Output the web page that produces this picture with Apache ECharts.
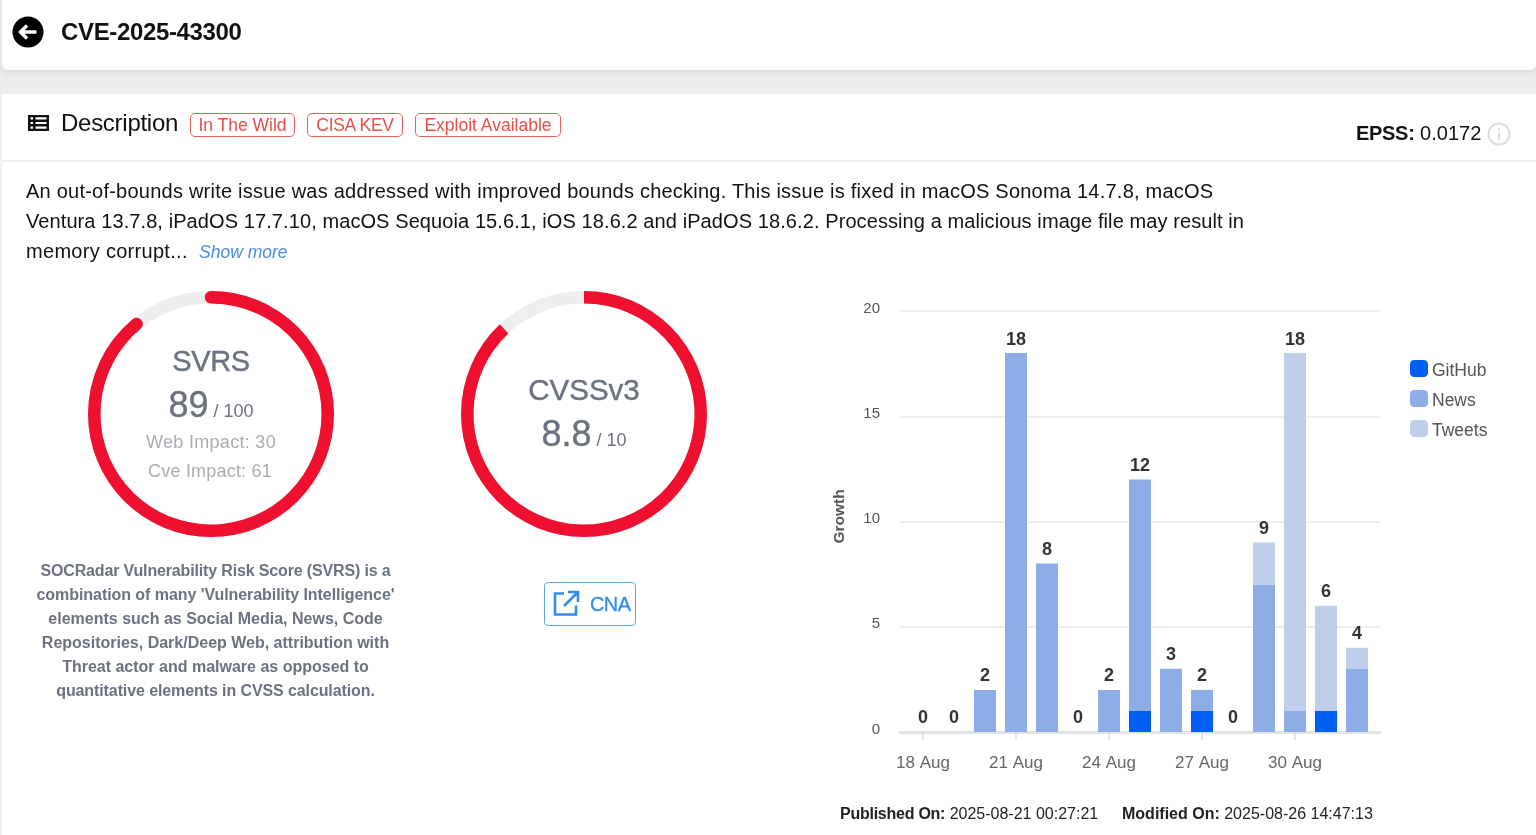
<!DOCTYPE html>
<html><head><meta charset="utf-8">
<script src="https://cdn.jsdelivr.net/npm/echarts@6/dist/echarts.min.js"></script>
<style>
html,body{margin:0;padding:0;width:1536px;height:835px;overflow:hidden;background:#fff;font-family:"Liberation Sans",Arial,sans-serif;color:#111}
#bg1{position:absolute;left:2px;top:0;width:1534px;height:70px;background:#fff;border-radius:0 0 6px 6px;box-shadow:0 2px 7px rgba(0,0,0,.09)}
#bg2{position:absolute;left:0;top:0;width:1536px;height:94px;background:#ededed}
#bg3{position:absolute;left:2px;top:94px;width:1534px;height:741px;background:#fff;border-radius:6px 0 0 0}
#bg4{position:absolute;left:0;top:94px;width:2px;height:741px;background:#f2f2f2}
#rule{position:absolute;left:2px;top:160px;width:1534px;height:2px;background:#f0f0f0}
.t{position:absolute;white-space:nowrap;transform:translateY(-50%)}
.c{position:absolute;white-space:nowrap;transform:translate(-50%,-50%);text-align:center}
.tag{position:absolute;top:113px;height:22px;line-height:23px;border:1px solid #e5625c;border-radius:5px;color:#e5504a;font-size:17.5px;text-align:center}
#chart{position:absolute;left:0;top:0;width:1536px;height:835px}
.g{color:#6b7280}
.s{-webkit-text-stroke:.4px #6b7280}
.p{font-size:16px;font-weight:bold}
svg{position:absolute}
</style></head><body>
<div id="bg2"></div><div id="bg1"></div><div id="bg4"></div><div id="bg3"></div><div id="rule"></div>
<div id="chart"></div>

<svg style="left:12px;top:16px" width="32" height="32" viewBox="0 0 32 32"><circle cx="16" cy="16" r="15.500" fill="#000"/><path d="M24.500 16H9M15 9.500L8.500 16l6.500 6.500" stroke="#fff" stroke-width="3.400" fill="none"/></svg>
<div class="t" style="left:61px;top:32px;font-size:24px;font-weight:bold;letter-spacing:-.35px">CVE-2025-43300</div>

<svg style="left:28px;top:114px" width="21" height="18" viewBox="0 0 21 18"><path fill="#111" fill-rule="evenodd" d="M0 1h21v16H0zM2.500 3.200v2.200H5V3.200zm5 0v2.200h11V3.200zM2.500 7.900v2.200H5V7.900zm5 0v2.200h11V7.900zM2.500 12.600v2.200H5v-2.200zm5 0v2.200h11v-2.200z"/></svg>
<div class="t" style="left:61px;top:123px;font-size:24px;letter-spacing:-.27px">Description</div>
<div class="tag" style="left:190px;width:103px">In The Wild</div>
<div class="tag" style="left:307px;width:94px;letter-spacing:-.3px">CISA KEV</div>
<div class="tag" style="left:415px;width:144px">Exploit Available</div>
<div class="t" style="left:1356px;top:133px;font-size:20px"><b style="letter-spacing:-.3px">EPSS:</b> 0.0172</div>
<svg style="left:1487px;top:122px" width="24" height="24" viewBox="0 0 24 24"><circle cx="12" cy="12" r="10.500" fill="none" stroke="#ddd" stroke-width="2"/><rect x="11" y="10.500" width="2" height="7.500" fill="#ddd"/><rect x="11" y="6.500" width="2" height="2" fill="#ddd"/></svg>

<div class="t" style="left:26px;top:190.500px;font-size:20px;letter-spacing:.23px">An out-of-bounds write issue was addressed with improved bounds checking. This issue is fixed in macOS Sonoma 14.7.8, macOS</div>
<div class="t" style="left:26px;top:220.500px;font-size:20px;letter-spacing:.09px">Ventura 13.7.8, iPadOS 17.7.10, macOS Sequoia 15.6.1, iOS 18.6.2 and iPadOS 18.6.2. Processing a malicious image file may result in</div>
<div class="t" style="left:26px;top:250.500px;font-size:20px;letter-spacing:.3px">memory corrupt...</div>
<div class="t" style="left:199px;top:252px;font-size:17.500px;font-style:italic;color:#4a8ee0">Show more</div>

<div class="c g s" style="left:211px;top:361px;font-size:29px;letter-spacing:-.4px">SVRS</div>
<div class="c g" style="left:211px;top:405px"><span class="s" style="font-size:36px">89</span><span style="font-size:18px"> / 100</span></div>
<div class="c" style="left:211px;top:442px;font-size:18px;color:#a9adb3;letter-spacing:.3px">Web Impact: 30</div>
<div class="c" style="left:210px;top:471px;font-size:18px;color:#a9adb3;letter-spacing:.2px">Cve Impact: 61</div>
<div class="c g s" style="left:584px;top:390px;font-size:29.500px">CVSSv3</div>
<div class="c g" style="left:584px;top:434px"><span class="s" style="font-size:36px">8.8</span><span style="font-size:18px"> / 10</span></div>

<div class="c g p" style="left:215.500px;top:571px;letter-spacing:-.15px">SOCRadar Vulnerability Risk Score (SVRS) is a</div>
<div class="c g p" style="left:215.500px;top:595px;letter-spacing:-.06px">combination of many 'Vulnerability Intelligence'</div>
<div class="c g p" style="left:215.500px;top:619px">elements such as Social Media, News, Code</div>
<div class="c g p" style="left:215.500px;top:643px">Repositories, Dark/Deep Web, attribution with</div>
<div class="c g p" style="left:215.500px;top:667px">Threat actor and malware as opposed to</div>
<div class="c g p" style="left:215.500px;top:691px;letter-spacing:-.1px">quantitative elements in CVSS calculation.</div>

<div style="position:absolute;left:544px;top:582px;width:90px;height:42px;border:1px solid #5aa9e6;border-radius:4px"></div>
<svg style="left:552px;top:590px" width="28" height="28" viewBox="0 0 28 28"><path d="M12 3.500H3v21h21v-9M16 2h10v10M26 2L12 16" fill="none" stroke="#2f8fe6" stroke-width="2.600"/></svg>
<div class="t" style="left:590px;top:604px;font-size:20px;color:#2f8fe6;letter-spacing:-.6px;-webkit-text-stroke:.3px #2f8fe6">CNA</div>

<div class="t" style="left:840px;top:814px;font-size:16px;color:#222"><b style="letter-spacing:-.25px">Published On:</b> 2025-08-21 00:27:21</div>
<div class="t" style="left:1122px;top:814px;font-size:16px;color:#222"><b>Modified On:</b> 2025-08-26 14:47:13</div>

<script>
const categories = ['18 Aug','19 Aug','20 Aug','21 Aug','22 Aug','23 Aug','24 Aug','25 Aug','26 Aug','27 Aug','28 Aug','29 Aug','30 Aug','31 Aug','01 Sep'];
const github = [0,0,0,0,0,0,0,1,0,1,0,0,0,1,0];
const news   = [0,0,2,18,8,0,2,11,3,1,0,7,1,0,3];
const tweets = [0,0,0,0,0,0,0,0,0,0,0,2,17,5,1];
const totals = [0,0,2,18,8,0,2,12,3,2,0,9,18,6,4];
const svrsScore = 89, svrsMax = 100;
const cvssScore = 8.8, cvssMax = 10;

const RED = '#ef0f2f', TRACK = '#eeeeee';
function ring(value, max, cx, round) {
  return {
    type:'gauge', center:[cx,414], radius:123, startAngle:90, endAngle:-270, min:0, max:max, silent:true,
    pointer:{show:false}, axisTick:{show:false}, splitLine:{show:false}, axisLabel:{show:false},
    title:{show:false}, detail:{show:false}, animation:false,
    axisLine:{roundCap:false, lineStyle:{width:12.500, color:[[1,TRACK]]}},
    progress:{show:true, width:12.500, roundCap:round, itemStyle:{color:RED}},
    data:[{value:value}]
  };
}
function bar(name, data, color) {
  return {name, type:'bar', stack:'s', xAxisIndex:1, yAxisIndex:1, barWidth:22, data, itemStyle:{color}, animation:false};
}
const yRange = {min:0, max:20, interval:5};
const chart = echarts.init(document.getElementById('chart'), null, {renderer:'canvas'});
chart.setOption({
  animation:false,
  grid:[
    {left:900, width:480, top:311, height:421},
    {left:907.500, width:465, top:311, height:421}
  ],
  xAxis:[
    {gridIndex:0, type:'category', data:categories, axisLine:{show:true, lineStyle:{color:'#e2e2e2', width:3}}, axisTick:{show:false}, axisLabel:{show:false}},
    {gridIndex:1, type:'category', data:categories, axisLine:{show:false},
     axisTick:{show:true, alignWithLabel:true, interval:2, length:8, lineStyle:{color:'#dcdcdc', width:1.500}},
     axisLabel:{interval:2, color:'#666', fontSize:17, fontFamily:'Liberation Sans', margin:23}}
  ],
  yAxis:[
    Object.assign({gridIndex:0, type:'value', name:'Growth', nameLocation:'middle', nameGap:52, nameRotate:90,
     nameTextStyle:{color:'#555', fontSize:15.500, fontWeight:'bold', fontFamily:'Liberation Sans', padding:[0,0,0,10]},
     axisLine:{show:false}, axisTick:{show:false},
     axisLabel:{margin:20, formatter:'{v|{value}}',
       rich:{v:{color:'#555', fontSize:15, fontFamily:'Liberation Sans', padding:[0,0,5,0]}}},
     splitLine:{lineStyle:{color:'#e8e8e8', width:1.500}}}, yRange),
    Object.assign({gridIndex:1, type:'value', show:false}, yRange)
  ],
  legend:{orient:'vertical', left:1410, top:360, padding:0, itemGap:9.500, itemWidth:18, itemHeight:17, icon:'roundRect',
    data:['GitHub','News','Tweets'], selectedMode:false, formatter:'{n|{name}}',
    textStyle:{rich:{n:{color:'#555', fontSize:17.500, fontFamily:'Liberation Sans', padding:[6,0,0,-1]}}}},
  series:[
    ring(svrsScore, svrsMax, 211, true),
    ring(cvssScore, cvssMax, 584, false),
    bar('GitHub', github, '#0060f4'),
    bar('News', news, '#8dade6'),
    bar('Tweets', tweets, '#bfcfeb'),
    {name:'Total', type:'line', xAxisIndex:1, yAxisIndex:1, data:totals, symbol:'circle', symbolSize:1, showSymbol:true, showAllSymbol:true,
     lineStyle:{width:0, color:'transparent'}, itemStyle:{color:'transparent'}, animation:false, silent:true,
     label:{show:true, position:'top', distance:4, color:'#333', fontSize:18, fontWeight:'bold', fontFamily:'Liberation Sans'}}
  ]
});
</script>
</body></html>
